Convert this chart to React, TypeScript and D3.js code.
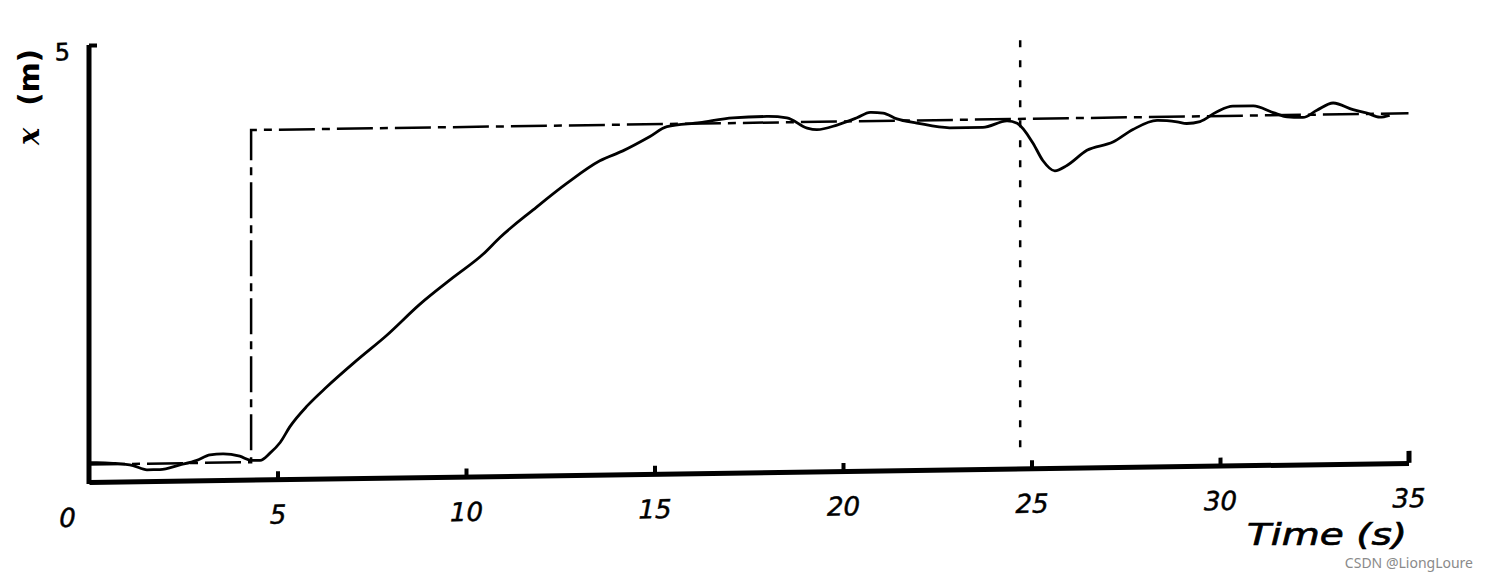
import React, { useEffect, useRef } from 'react';
import * as d3 from 'd3';

const timeS = [0, 0.11, 0.64, 1.17, 1.54, 1.88, 2.41, 2.86, 3.21, 3.55, 4.0, 4.32, 4.54, 4.8, 5.07, 5.33, 5.8, 6.31, 7.11, 7.9, 8.78, 9.66, 10.45, 10.9, 11.78, 12.68, 13.55, 14.16, 14.88, 15.33, 16.2, 17.08, 17.98, 18.51, 19.05, 19.31, 19.84, 20.37, 20.72, 21.06, 21.43, 21.96, 22.84, 23.71, 24.35, 24.62, 25.04, 25.3, 25.62, 25.94, 26.47, 27.16, 27.69, 28.33, 28.86, 29.12, 29.47, 29.92, 30.34, 30.88, 31.41, 31.78, 32.2, 32.57, 33.0, 33.53, 33.9, 34.24, 34.5];
const posM = [0.22, 0.22, 0.21, 0.18, 0.13, 0.13, 0.18, 0.23, 0.29, 0.3, 0.27, 0.22, 0.22, 0.3, 0.42, 0.6, 0.84, 1.05, 1.35, 1.63, 1.98, 2.28, 2.54, 2.73, 3.04, 3.34, 3.59, 3.7, 3.86, 3.97, 4.01, 4.06, 4.07, 4.05, 3.93, 3.91, 3.96, 4.04, 4.1, 4.09, 4.02, 3.97, 3.91, 3.91, 3.98, 3.95, 3.72, 3.52, 3.4, 3.46, 3.63, 3.72, 3.86, 3.96, 3.94, 3.92, 3.94, 4.05, 4.11, 4.11, 4.03, 3.98, 3.97, 4.05, 4.13, 4.05, 4.01, 3.96, 3.98];

// commanded position (step)
const setTime = [0, 4.3, 35];
const setValue = [0.2, 4.0, 4.0];

const disturbanceT = 24.7;
const xTicks = [0, 5, 10, 15, 20, 25, 30, 35];
const yTicks = [5];

const W = 1488;
const H = 581;

const App = () => {
  const ref = useRef(null);
  useEffect(() => {
    const svg = d3.select(ref.current);
    svg.selectAll('*').remove();
    draw(svg);
  }, []);
  return (
    <svg ref={ref} width={W} height={H}
      style={{ position: 'absolute', left: 0, top: 0, background: '#fff' }} />
  );
};

const draw = (svg) => {
  const left = 89;
  const x = d3.scaleLinear().domain([0, 35]).range([0, 1319.5]);
  const y = d3.scaleLinear().domain([0, 5]).range([482, 45]);
  const font = '"DejaVu Sans", sans-serif';

  // the scanned figure is slightly sheared, keep that
  const g = svg.append('g')
    .attr('transform', 'translate(' + left + ',0) skewY(-0.83)');

  // x axis
  const xAxis = d3.axisBottom(x)
    .tickValues(xTicks)
    .tickSizeInner(-8)
    .tickSizeOuter(0)
    .tickPadding(26)
    .tickFormat(d3.format('d'));
  const xg = g.append('g')
    .attr('transform', 'translate(0,' + y(0) + ')')
    .call(xAxis);
  xg.select('.domain').attr('stroke', '#000').attr('stroke-width', 5);
  xg.selectAll('.tick line').attr('stroke', '#000').attr('stroke-width', 4);
  xg.selectAll('.tick text')
    .attr('fill', '#000')
    .attr('font-family', font)
    .attr('font-style', 'italic')
    .attr('font-size', 26)
    .attr('stroke', '#000')
    .attr('stroke-width', 0.5);
  xg.selectAll('.tick').filter(d => d === 0).select('line').remove();
  xg.selectAll('.tick').filter(d => d === 0).select('text').attr('x', -22);
  xg.selectAll('.tick').filter(d => d === 35).select('line').attr('y2', -12).attr('stroke-width', 5);

  // y axis
  const yAxis = d3.axisLeft(y)
    .tickValues(yTicks)
    .tickSizeInner(-8)
    .tickSizeOuter(0)
    .tickPadding(19)
    .tickFormat(d3.format('d'));
  const yg = g.append('g').call(yAxis);
  yg.select('.domain').attr('stroke', '#000').attr('stroke-width', 5)
    .attr('d', 'M0,' + (y(0) + 2) + 'V' + y(5));
  yg.selectAll('.tick line').attr('stroke', '#000').attr('stroke-width', 4);
  yg.selectAll('.tick text')
    .attr('fill', '#000')
    .attr('dy', '0.6em')
    .attr('font-family', font)
    .attr('font-size', 24)
    .attr('stroke', '#000')
    .attr('stroke-width', 0.6);

  // setpoint, dash-dot
  const setData = setTime.map((t, i) => ({ t, v: setValue[i] }));
  const stepLine = d3.line()
    .x(d => x(d.t))
    .y(d => y(d.v))
    .curve(d3.curveStepAfter);
  g.append('path')
    .datum(setData)
    .attr('fill', 'none')
    .attr('stroke', '#000')
    .attr('stroke-width', 2.5)
    .attr('stroke-dasharray', '36,7,8,7')
    .attr('d', stepLine);

  // disturbance marker
  g.append('line')
    .attr('x1', x(disturbanceT)).attr('x2', x(disturbanceT))
    .attr('y1', y(4.9)).attr('y2', y(0.12))
    .attr('stroke', '#000')
    .attr('stroke-width', 2.5)
    .attr('stroke-dasharray', '7,13');

  // response
  const data = timeS.map((t, i) => ({ t, v: posM[i] }));
  const line = d3.line()
    .x(d => x(d.t))
    .y(d => y(d.v))
    .curve(d3.curveMonotoneX);
  g.append('path')
    .datum(data)
    .attr('fill', 'none')
    .attr('stroke', '#000')
    .attr('stroke-width', 2.8)
    .attr('stroke-linejoin', 'round')
    .attr('d', line);

  // axis titles
  const yl = svg.append('text')
    .attr('transform', 'translate(39,97) rotate(-90)')
    .attr('text-anchor', 'middle')
    .attr('fill', '#000')
    .attr('font-size', 29);
  yl.append('tspan')
    .attr('font-family', '"DejaVu Serif", serif')
    .attr('font-style', 'italic')
    .attr('font-weight', 'bold')
    .text('x');
  yl.append('tspan')
    .attr('dx', 12)
    .attr('font-family', font)
    .attr('font-weight', 'bold')
    .text(' (m)');

  svg.append('text')
    .attr('x', 1247)
    .attr('y', 545)
    .attr('textLength', 160)
    .attr('lengthAdjust', 'spacingAndGlyphs')
    .attr('font-family', font)
    .attr('font-style', 'italic')
    .attr('font-size', 31)
    .attr('fill', '#000')
    .attr('stroke', '#000')
    .attr('stroke-width', 0.7)
    .text('Time (s)');

  svg.append('text')
    .attr('x', 1473)
    .attr('y', 568)
    .attr('text-anchor', 'end')
    .attr('font-family', '"Noto Sans", sans-serif')
    .attr('font-size', 14)
    .attr('fill', '#8a8a8a')
    .text('CSDN @LiongLoure');
};

export default App;
